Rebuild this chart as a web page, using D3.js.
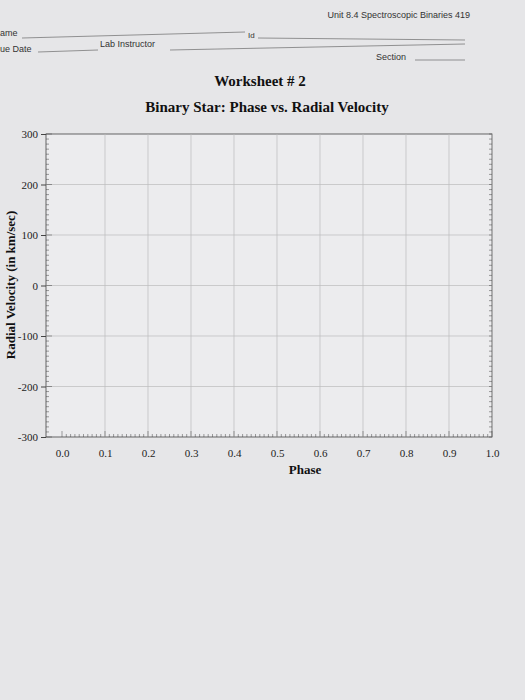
<!DOCTYPE html>
<html><head><meta charset="utf-8">
<script src="https://cdn.jsdelivr.net/npm/d3@7"></script>
<style>body{margin:0;background:#e9e9ea;}svg{display:block}</style>
</head><body>
<svg id="c" width="525" height="700"></svg>
<script>
const phaseTicks = [0,0.1,0.2,0.3,0.4,0.5,0.6,0.7,0.8,0.9,1.0];
const velocityTicks = [-300,-200,-100,0,100,200,300];
const title = "Worksheet # 2";
const subtitle = "Binary Star: Phase vs. Radial Velocity";
const xLabel = "Phase";
const yLabel = "Radial Velocity (in km/sec)";

const svg = d3.select("#c");
svg.append("rect").attr("width",525).attr("height",700).attr("fill","#e6e6e8");
const serif = "'Liberation Serif','DejaVu Serif',serif";
const sans = "'Liberation Sans',Arial,sans-serif";

svg.append("text").attr("x",470).attr("y",18).attr("text-anchor","end").attr("font-family",sans).attr("font-size",9).attr("fill","#333").text("Unit 8.4   Spectroscopic Binaries   419");
svg.append("text").attr("x",0).attr("y",36).attr("font-family",sans).attr("font-size",9).attr("fill","#333").text("ame");
svg.append("text").attr("x",0).attr("y",52).attr("font-family",sans).attr("font-size",9).attr("fill","#333").text("ue Date");
svg.append("text").attr("x",100).attr("y",47).attr("font-family",sans).attr("font-size",9).attr("fill","#333").text("Lab Instructor");
svg.append("text").attr("x",248).attr("y",38).attr("font-family",sans).attr("font-size",8).attr("fill","#333").text("Id");
svg.append("text").attr("x",376).attr("y",60).attr("font-family",sans).attr("font-size",9).attr("fill","#333").text("Section");
[[22,38,245,32],[258,38,465,40],[38,52,98,50],[170,50,465,44],[415,60,465,60]].forEach(l=>
 svg.append("line").attr("x1",l[0]).attr("y1",l[1]).attr("x2",l[2]).attr("y2",l[3]).attr("stroke","#555").attr("stroke-width",0.6));

svg.append("text").attr("x",260).attr("y",86).attr("text-anchor","middle").attr("font-family",serif).attr("font-weight","bold").attr("font-size",15).attr("fill","#111").text(title);
svg.append("text").attr("x",267).attr("y",112).attr("text-anchor","middle").attr("font-family",serif).attr("font-weight","bold").attr("font-size",15).attr("fill","#111").text(subtitle);

const L=46,R=492,T=134,B=437;
const x = d3.scaleLinear().domain([0,1]).range([L+16,R]);
const y = d3.scaleLinear().domain([-300,300]).range([B,T]);
const g = svg.append("g");
g.append("rect").attr("x",L).attr("y",T).attr("width",R-L).attr("height",B-T).attr("fill","#ececee").attr("stroke","#444").attr("stroke-width",0.8);
g.selectAll(".vg").data(phaseTicks.slice(1)).join("line").attr("x1",d=>x(d)).attr("x2",d=>x(d)).attr("y1",T).attr("y2",B).attr("stroke","#bbb").attr("stroke-width",0.7);
g.selectAll(".hg").data(velocityTicks.slice(1,-1)).join("line").attr("x1",L).attr("x2",R).attr("y1",d=>y(d)).attr("y2",d=>y(d)).attr("stroke","#bbb").attr("stroke-width",0.7);
const minorX = d3.range(0,101).map(i=>i/100);
g.selectAll(".mx").data(minorX).join("line").attr("x1",d=>x(d)).attr("x2",d=>x(d)).attr("y1",B).attr("y2",d=>B-(Math.round(d*100)%10===0?6:3)).attr("stroke","#444").attr("stroke-width",0.5);
const minorY = d3.range(-300,301,10);
g.selectAll(".my").data(minorY).join("line").attr("x1",L).attr("x2",d=>L+(d%100===0?6:3)).attr("y1",d=>y(d)).attr("y2",d=>y(d)).attr("stroke","#444").attr("stroke-width",0.5);
g.selectAll(".myr").data(minorY).join("line").attr("x1",R).attr("x2",R-3).attr("y1",d=>y(d)).attr("y2",d=>y(d)).attr("stroke","#444").attr("stroke-width",0.5);
const ya = svg.append("g").attr("transform",`translate(${L},0)`).call(d3.axisLeft(y).tickValues(velocityTicks).tickSize(5).tickFormat(d=>String(d)));
ya.select(".domain").remove();
ya.selectAll("text").attr("font-family",serif).attr("font-size",11).attr("fill","#222");
ya.selectAll("line").attr("stroke","#444");
const xa = svg.append("g").attr("transform",`translate(0,${B})`).call(d3.axisBottom(x).tickValues(phaseTicks).tickSize(0).tickPadding(12).tickFormat(d3.format(".1f")));
xa.select(".domain").remove();
xa.selectAll("text").attr("font-family",serif).attr("font-size",11).attr("fill","#222");
svg.append("text").attr("x",305).attr("y",474).attr("text-anchor","middle").attr("font-family",serif).attr("font-weight","bold").attr("font-size",13).attr("fill","#111").text(xLabel);
svg.append("text").attr("transform","translate(15,285) rotate(-90)").attr("text-anchor","middle").attr("font-family",serif).attr("font-weight","bold").attr("font-size",13).attr("fill","#111").text(yLabel);
</script>
</body></html>
